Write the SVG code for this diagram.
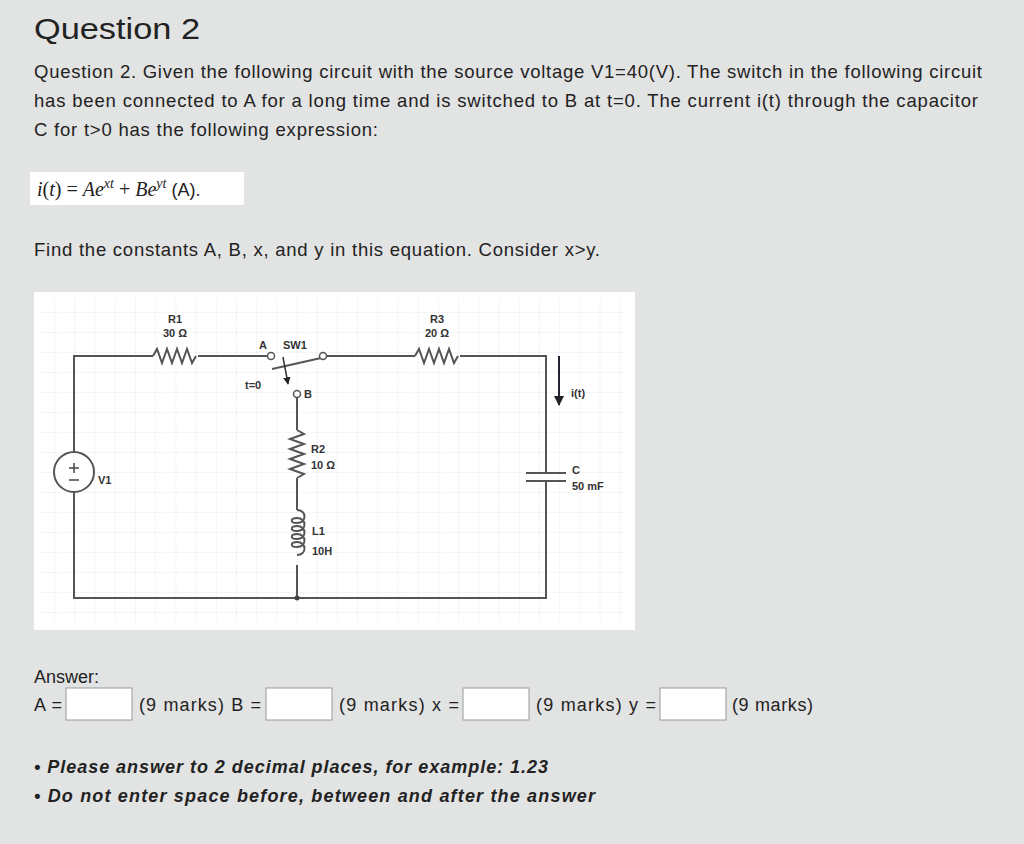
<svg xmlns="http://www.w3.org/2000/svg" width="1024" height="844" viewBox="0 0 1024 844">
<defs>
<style>
.t{font-family:"Liberation Sans",Arial,sans-serif;fill:#222}
.w{fill:none;stroke:#555;stroke-width:2}
.l{font-family:"Liberation Sans",Arial,sans-serif;font-size:11px;font-weight:bold;fill:#333}
.box{fill:#fff;stroke:#999;stroke-width:1}
</style>
<pattern id="g" x="34" y="292" width="20.2" height="20" patternUnits="userSpaceOnUse"><path d="M0 0H20.2M0 0V20" fill="none" stroke="#e4e4e4" stroke-width="1" stroke-dasharray="2 1"/></pattern>
<marker id="ah" viewBox="0 0 10 10" refX="9" refY="5" markerWidth="5" markerHeight="5" orient="auto"><path d="M0 0L10 5L0 10z" fill="#222"/></marker>
</defs>
<rect width="1024" height="844" fill="#e2e3e3"/>
<text class="t" x="34" y="39" font-size="30" textLength="166" lengthAdjust="spacingAndGlyphs">Question 2</text>
<g class="t" font-size="18.5">
<text x="34" y="78" textLength="948">Question 2. Given the following circuit with the source voltage V1=40(V). The switch in the following circuit</text>
<text x="34" y="107" textLength="944">has been connected to A for a long time and is switched to B at t=0. The current i(t) through the capacitor</text>
<text x="34" y="136" textLength="344">C for t&gt;0 has the following expression:</text>
</g>
<rect x="30" y="172" width="214" height="33" fill="#fff"/>
<text x="37" y="196" font-family="Liberation Serif,serif" font-size="20" fill="#222"><tspan font-style="italic">i</tspan>(<tspan font-style="italic">t</tspan>) = <tspan font-style="italic">Ae</tspan><tspan font-style="italic" font-size="14" dy="-8">xt</tspan><tspan dy="8"> + </tspan><tspan font-style="italic">Be</tspan><tspan font-style="italic" font-size="14" dy="-8">yt</tspan><tspan dy="8" font-family="Liberation Sans,sans-serif" font-size="18">  (A).</tspan></text>
<text class="t" x="34" y="256" font-size="18.5" textLength="566">Find the constants A, B, x, and y in this equation. Consider x&gt;y.</text>

<rect x="34" y="292" width="601" height="338" fill="#fff"/>
<rect x="40" y="298" width="585" height="324" fill="url(#g)"/>
<g id="wires">
<path class="w" d="M74 452V356H153M198 356H268M74 492V598H546V481M546 473V356H460M415 356H326M297 397V430M297 478V510M297 565V598"/>
<path class="w" d="M153 356l4 -7l5 14l5 -14l5 14l5 -14l5 14l5 -14l5 14l4 -7"/>
<path class="w" d="M415 356l4 -7l5 14l5 -14l5 14l5 -14l5 14l5 -14l5 14l4 -7"/>
<path class="w" d="M297 430l7 4l-14 5l14 5l-14 5l14 5l-14 5l14 5l-14 5l14 5l-7 4"/>
<path class="w" d="M297 510c10 0 10 13 0 13c-7 0-7-5 0-5c10 0 10 13 0 13c-7 0-7-5 0-5c10 0 10 13 0 13c-7 0-7-5 0-5c10 0 10 13 0 13c-7 0-7-5 0-5c10 0 10 13 0 13"/>
<path class="w" d="M526 473H566M526 481H566"/>
<path class="w" d="M272 369L321 358"/>
<circle cx="271" cy="356" r="3.5" fill="#fff" stroke="#555" stroke-width="1.5"/>
<circle cx="323" cy="356" r="3.5" fill="#fff" stroke="#555" stroke-width="1.5"/>
<circle cx="297" cy="394" r="3.5" fill="#fff" stroke="#555" stroke-width="1.5"/>
<path d="M283 357L288 384" stroke="#333" stroke-width="1.5" marker-end="url(#ah)"/>
<circle cx="297" cy="598" r="2.5" fill="#444"/>
<path d="M559 356V405" stroke="#223" stroke-width="2" marker-end="url(#ah)"/>
</g>
<g id="V1"><circle cx="74" cy="472" r="20" fill="#fff" stroke="#555" stroke-width="2"/><path d="M69 468h10M74 463v10M69 480h10" stroke="#444" stroke-width="1.5"/></g>
<g class="l">
<text x="98" y="484">V1</text>
<text x="175" y="323" text-anchor="middle">R1</text><text x="175" y="337" text-anchor="middle">30 Ω</text>
<text x="437" y="323" text-anchor="middle">R3</text><text x="437" y="337" text-anchor="middle">20 Ω</text>
<text x="259" y="349">A</text><text x="283" y="349">SW1</text>
<text x="245" y="389">t=0</text><text x="304" y="398">B</text>
<text x="311" y="453">R2</text><text x="311" y="469">10 Ω</text>
<text x="312" y="535">L1</text><text x="312" y="555">10H</text>
<text x="571" y="397">i(t)</text>
<text x="572" y="474">C</text><text x="572" y="490">50 mF</text>
</g>

<text class="t" x="34" y="683" font-size="18">Answer:</text>
<g class="t" font-size="18">
<text x="34" y="711" textLength="28">A =</text><rect class="box" x="66" y="688" width="66" height="32"/>
<text x="139" y="711" textLength="122">(9 marks)  B =</text><rect class="box" x="266" y="688" width="66" height="32"/>
<text x="339" y="711" textLength="120">(9 marks)  x =</text><rect class="box" x="463" y="688" width="66" height="32"/>
<text x="536" y="711" textLength="120">(9 marks)  y =</text><rect class="box" x="660" y="688" width="66" height="32"/>
<text x="732" y="711" textLength="81">(9 marks)</text>
</g>
<g class="t" font-size="18" font-style="italic" font-weight="bold">
<text x="34" y="773" textLength="514">• Please answer to 2 decimal places, for example: 1.23</text>
<text x="34" y="802" textLength="561">• Do not enter space before, between and after the answer</text>
</g>
</svg>
